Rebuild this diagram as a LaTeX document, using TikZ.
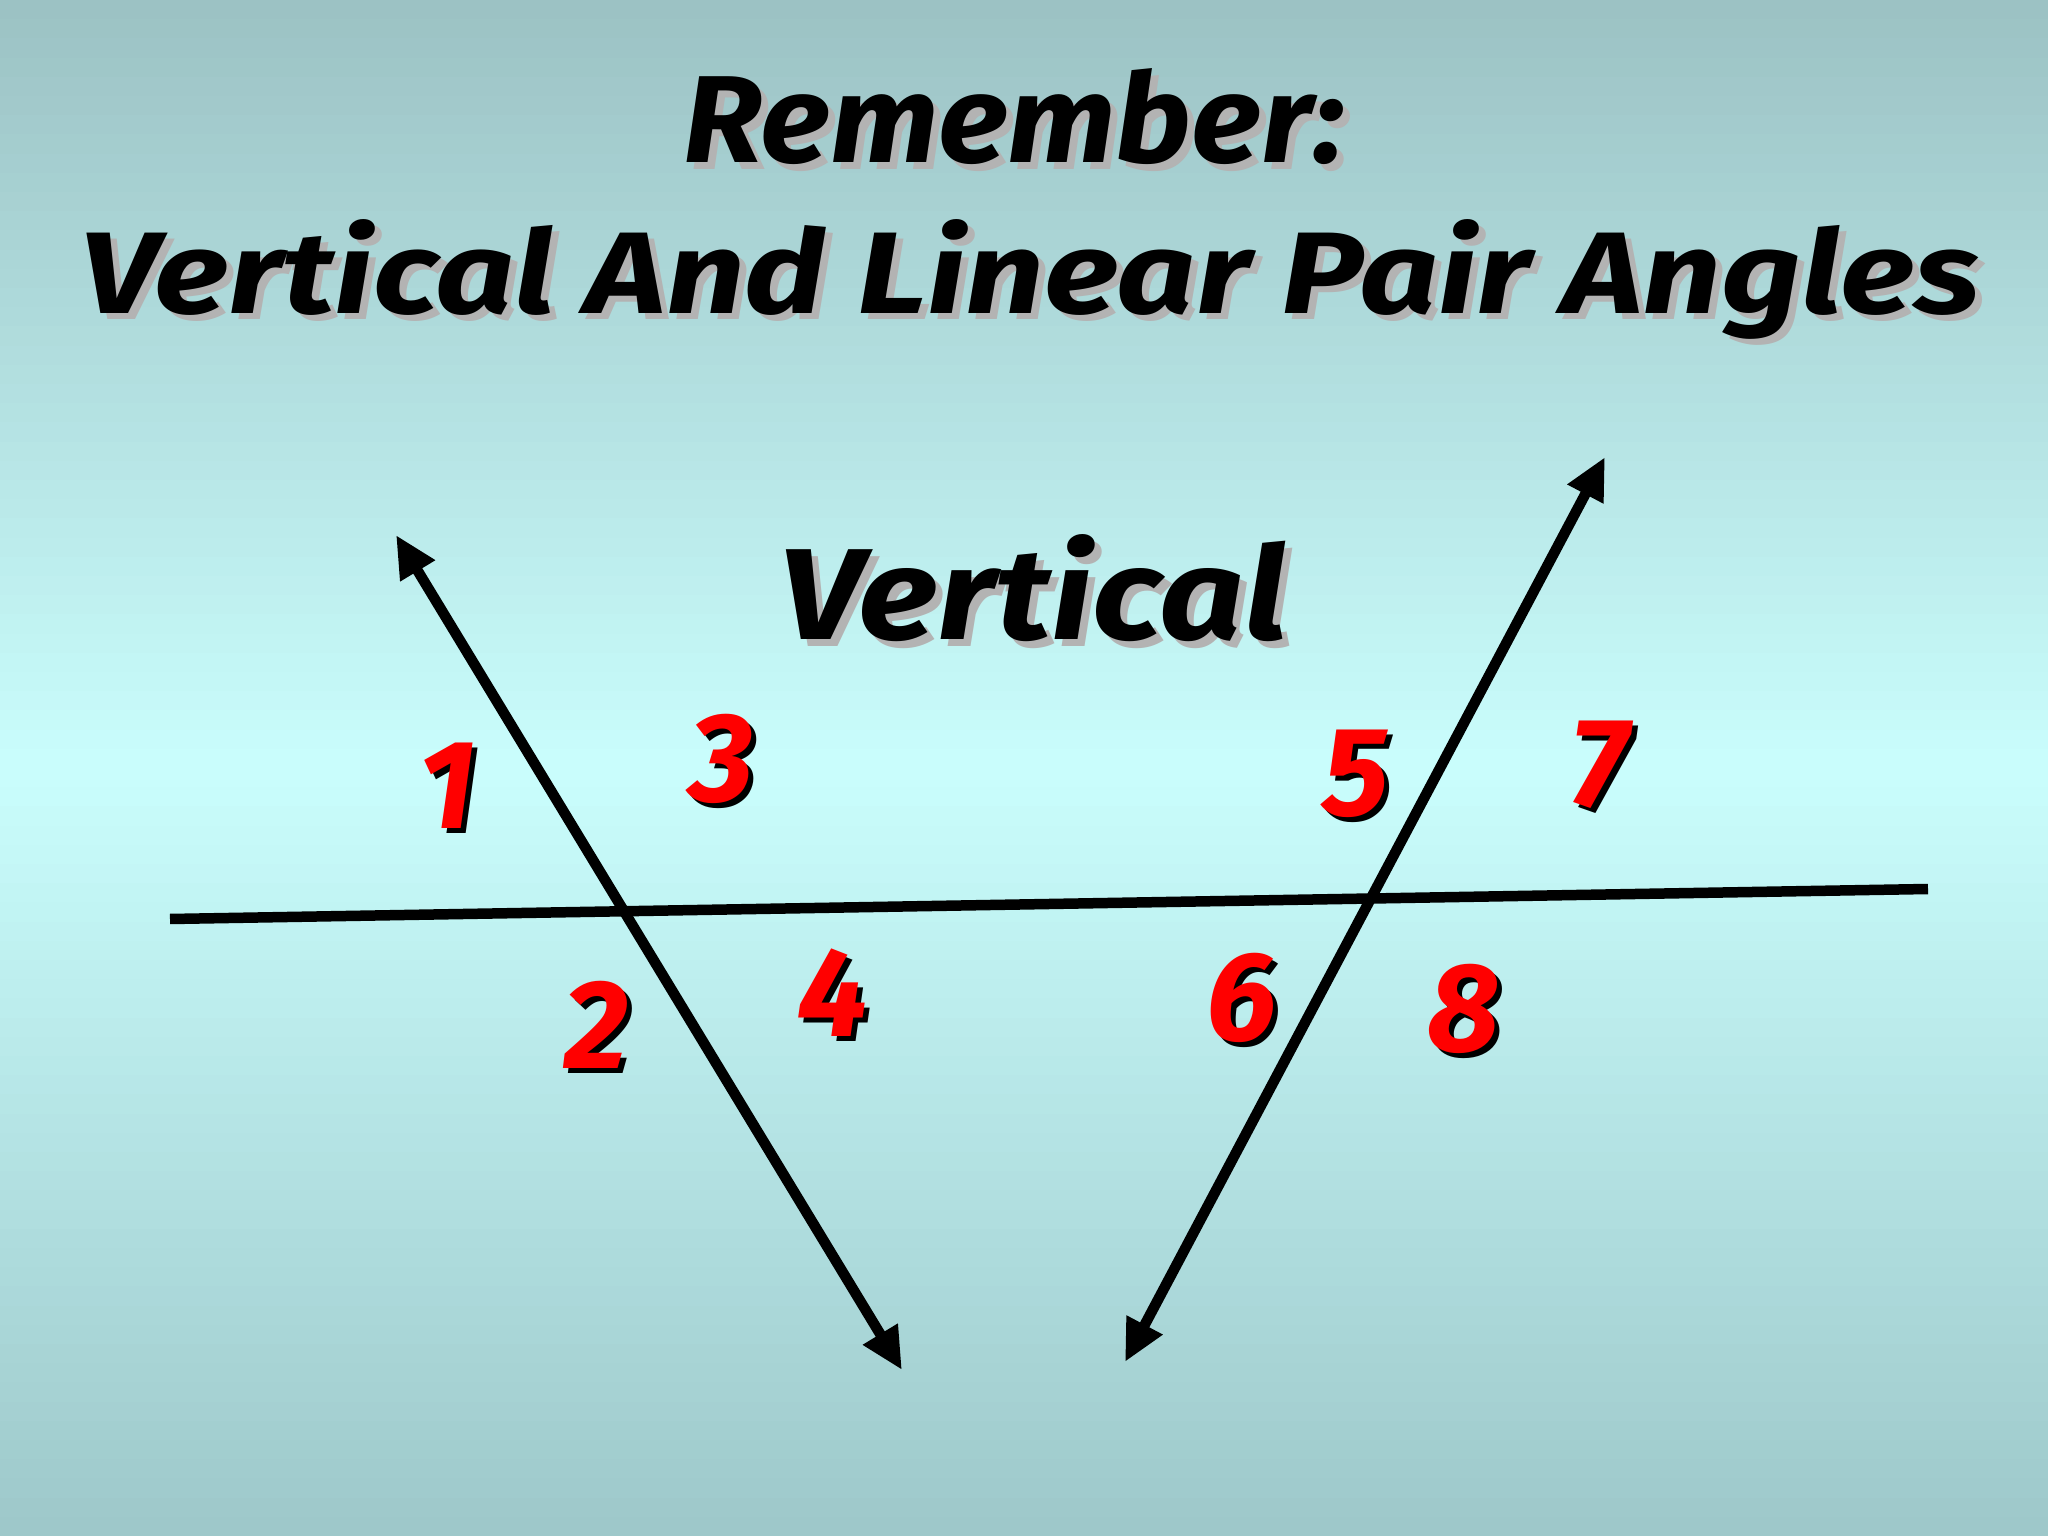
\documentclass[tikz,border=0pt]{standalone}
\usepackage{fontspec}
\newfontfamily\comicfont{Fira Sans}
\usetikzlibrary{arrows.meta}
\definecolor{bgtop}{HTML}{9CC2C4}
\definecolor{bgmid}{HTML}{C9FDFC}
\definecolor{bgbot}{HTML}{9EC8CA}
\definecolor{titleshadow}{HTML}{B3B3B3}
\newcommand{\shtext}[4]{\rlap{\kern#2\raisebox{-#2}{\color{#1}#4}}#3}
\tikzset{
  title/.style={font=\comicfont\bfseries\itshape, inner sep=0pt, anchor=base, text=black},
  num/.style={font=\comicfont\bfseries\itshape\fontsize{36}{40}\selectfont, inner sep=0pt, text=red},
  ray/.style={line width=0.105cm, {Triangle[length=0.42cm,width=0.38cm]}-{Triangle[length=0.42cm,width=0.38cm]}},
  transversal/.style={line width=0.105cm}
}
\begin{document}
\begin{tikzpicture}
\useasboundingbox (0,0) rectangle (20.48,-15.36);
% background gradient
\foreach \i in {0,...,39} {
  \pgfmathsetmacro\p{100*\i/39}
  \fill[bgmid!\p!bgtop] (0,{-\i*0.192}) rectangle (20.48,{-(\i+1)*0.192-0.01});
}
\foreach \i in {40,...,79} {
  \pgfmathsetmacro\p{100*(\i-40)/39}
  \fill[bgbot!\p!bgmid] (0,{-\i*0.192}) rectangle (20.48,{-(\i+1)*0.192-0.01});
}
% titles
\node[title] (t1) at (10.14,-1.63) {\shtext{titleshadow}{0.07cm}{\resizebox{6.61cm}{0.94cm}{Remember:}}{\resizebox{6.61cm}{0.94cm}{Remember:}}};
\node[title] (t2) at (10.30,-3.13) {\shtext{titleshadow}{0.07cm}{\resizebox{18.98cm}{0.94cm}{Vertical And Linear Pair Angles}}{\resizebox{18.98cm}{0.94cm}{Vertical And Linear Pair Angles}}};
\node[title] (t3) at (10.33,-6.40) {\shtext{titleshadow}{0.07cm}{\resizebox{5.07cm}{1.05cm}{Vertical}}{\resizebox{5.07cm}{1.05cm}{Vertical}}};
% lines
\coordinate (ha) at (1.70,-9.19);
\coordinate (hb) at (19.28,-8.89);
\coordinate (la) at (3.96,-5.35);
\coordinate (lb) at (9.02,-13.70);
\coordinate (ra) at (16.05,-4.57);
\coordinate (rb) at (11.25,-13.62);
\draw[transversal] (ha) -- (hb);
\draw[ray] (la) -- (lb);
\draw[ray] (ra) -- (rb);
% numbers
\node[num] (n1) at (4.47,-7.88) {\shtext{black}{0.05cm}{\color{red}1}{1}};
\node[num] (n3) at (7.22,-7.61) {\shtext{black}{0.05cm}{\color{red}3}{3}};
\node[num] (n5) at (13.56,-7.76) {\shtext{black}{0.05cm}{\color{red}5}{5}};
\node[num] (n7) at (15.99,-7.67) {\shtext{black}{0.05cm}{\color{red}7}{7}};
\node[num] (n2) at (5.97,-10.27) {\shtext{black}{0.05cm}{\color{red}2}{2}};
\node[num] (n4) at (8.33,-9.95) {\shtext{black}{0.05cm}{\color{red}4}{4}};
\node[num] (n6) at (12.42,-10.00) {\shtext{black}{0.05cm}{\color{red}6}{6}};
\node[num] (n8) at (14.64,-10.11) {\shtext{black}{0.05cm}{\color{red}8}{8}};
\end{tikzpicture}
\end{document}
